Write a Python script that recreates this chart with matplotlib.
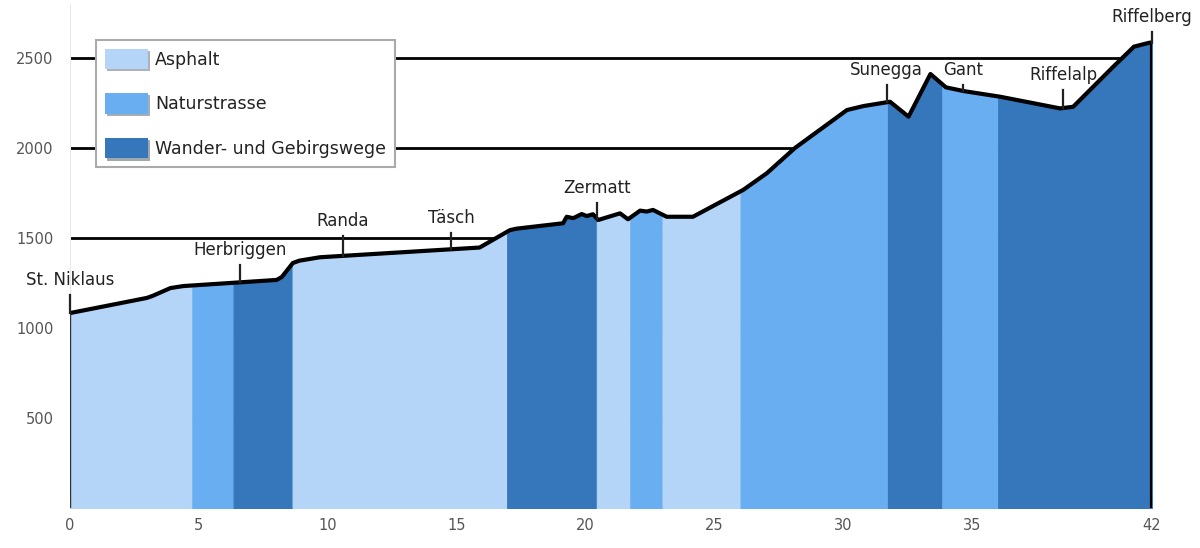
import numpy as np
import matplotlib.pyplot as plt
import matplotlib.patheffects as pe
from matplotlib.patches import Patch

# Hoehenprofil St. Niklaus - Riffelberg
km = [0, 2.98, 3.2, 3.9, 4.4, 8.02, 8.22, 8.65, 8.9, 9.7, 12.8, 15.9,
      17.08, 17.34, 19.14, 19.28, 19.53, 19.86, 20.06, 20.3, 20.5,
      21.35, 21.66, 22.13, 22.39, 22.63, 23.16, 24.18, 26.13, 27.05,
      28.14, 30.16, 30.8, 31.83, 32.55, 33.4, 34.0, 34.7, 36.1, 38.43,
      38.94, 40.5, 41.3, 41.9, 42]
elev = [1083, 1167, 1178, 1222, 1233, 1267, 1283, 1361, 1374, 1393, 1420, 1447,
        1544, 1552, 1582, 1618, 1610, 1633, 1622, 1632, 1600,
        1637, 1604, 1652, 1647, 1656, 1618, 1618, 1767, 1860,
        2000, 2211, 2233, 2257, 2174, 2411, 2337, 2316, 2285, 2220,
        2229, 2452, 2563, 2585, 2585]

# Belag-Abschnitte
seg_start = [0, 4.75, 6.35, 8.64, 16.97, 20.45, 21.75, 23.0, 26.03, 31.75, 33.86, 36.03]
seg_end = [4.75, 6.35, 8.64, 16.97, 20.45, 21.75, 23.0, 26.03, 31.75, 33.86, 36.03, 42]
seg_type = ['A', 'N', 'W', 'A', 'W', 'A', 'N', 'A', 'N', 'W', 'N', 'W']

# Orte
places = ['St. Niklaus', 'Herbriggen', 'Randa', 'Täsch', 'Zermatt',
          'Sunegga', 'Gant', 'Riffelalp', 'Riffelberg']
place_km = [0, 6.6, 10.6, 14.8, 20.46, 31.7, 34.67, 38.55, 42]
label_elev = [1267, 1433, 1594, 1611, 1778, 2433, 2433, 2406, 2728]

xticks = [0, 5, 10, 15, 20, 25, 30, 35, 42]
yticks = [500, 1000, 1500, 2000, 2500]

colors = {'A': '#b4d5f7', 'N': '#6aaef2', 'W': '#3677bb'}
names = {'A': 'Asphalt', 'N': 'Naturstrasse', 'W': 'Wander- und Gebirgswege'}

fig = plt.figure(figsize=(12, 5.48), dpi=100)
ax = fig.add_axes([70 / 1200, 40 / 548, 1082 / 1200, 504 / 548])
ax.set_xlim(0, 42)
ax.set_ylim(0, 2800)

for y in yticks:
    ax.axhline(y, color='black', lw=2, zorder=0)

for a, b, t in zip(seg_start, seg_end, seg_type):
    xs = [a] + [k for k in km if a < k < b] + [b]
    ys = np.interp(xs, km, elev)
    ax.fill_between(xs, 0, ys, facecolor=colors[t], edgecolor=colors[t], lw=0.8, zorder=1)

ax.plot(km, elev, color='black', lw=3, solid_joinstyle='round', zorder=3)
ax.plot([42, 42], [0, elev[-1]], color='black', lw=3, zorder=3)
ax.plot([0, 0], [0, elev[0]], color='#333333', lw=1, zorder=3)

for name, k, le in zip(places, place_km, label_elev):
    base = np.interp(k, km, elev)
    top = le - 85
    ax.plot([k, k], [base, top], color='#222222', lw=1.6, zorder=3, clip_on=False)
    ax.text(k, le, name, ha='center', va='center', fontsize=12,
            color='#222222', zorder=4, clip_on=False)

for s in ['top', 'right', 'bottom']:
    ax.spines[s].set_visible(False)
ax.spines['left'].set_color('#e3eaf2')
ax.spines['left'].set_zorder(0)

ax.set_xticks(xticks)
ax.set_xticklabels([str(x) for x in xticks])
ax.set_yticks(yticks)
ax.tick_params(axis='both', length=0, labelsize=10.5, labelcolor='#555555')
ax.tick_params(axis='y', pad=12)
ax.tick_params(axis='x', pad=7)

handles = [Patch(facecolor=colors[t], edgecolor='none', label=names[t]) for t in ['A', 'N', 'W']]
leg = ax.legend(handles=handles, loc='upper left',
                bbox_to_anchor=(96 / 1200, 1 - 40 / 548), bbox_transform=fig.transFigure,
                borderaxespad=0, fontsize=12.5, handlelength=2.5, handleheight=1.45,
                labelspacing=1.38, handletextpad=0.4, borderpad=0.5,
                fancybox=False, framealpha=1)
leg.get_frame().set_edgecolor('#aaaaaa')
leg.get_frame().set_linewidth(1.5)
leg.set_zorder(5)
for txt in leg.get_texts():
    txt.set_color('#222222')
for p in leg.get_patches():
    p.set_path_effects([pe.SimplePatchShadow(offset=(1.5, -1.5), alpha=0.4), pe.Normal()])

fig.savefig('out.png', dpi=100)
